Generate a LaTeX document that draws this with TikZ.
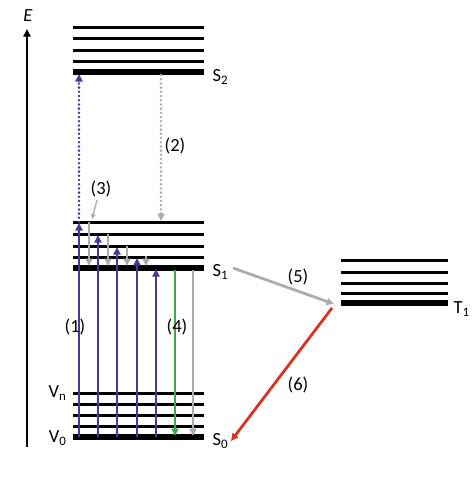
\documentclass[tikz,border=0pt]{standalone}
\usepackage{fontspec}
\setmainfont{Carlito}
\usetikzlibrary{arrows.meta}

\definecolor{absblue}{RGB}{66,58,150}
\definecolor{fluogreen}{RGB}{62,168,72}
\definecolor{relaxgray}{RGB}{172,172,172}
\definecolor{phosred}{RGB}{214,52,36}

\begin{document}
\begin{tikzpicture}[x=1pt, y=-1pt, >={Triangle[length=7.5pt,width=7pt]},
    every node/.style={font=\fontsize{18.5}{22}\selectfont},
    level/.style={line width=3pt},
    vzero/.style={line width=5.5pt},
    trans/.style={line width=2.8pt},
    dots/.style={line cap=round, dash pattern=on 0pt off 4.2pt}]
    \useasboundingbox (0,0) rectangle (474,498);

    % energy axis
    \coordinate (axbot) at (27,447);
    \coordinate (axtop) at (27,29);
    \draw[->, line width=1.8pt] (axbot) -- (axtop);
    \node (elab) at (28,16) {\textit{E}};

    % S2
    \foreach \y in {27,38,50,61}
      \draw[level] (73,\y) -- (204,\y);
    \draw[vzero] (73,72) -- (204,72);
    \node[anchor=west] (s2) at (209,77) {S\textsubscript{2}};

    % S1
    \foreach \y in {222,234,246,257}
      \draw[level] (73,\y) -- (204,\y);
    \draw[vzero] (73,268) -- (204,268);
    \node[anchor=west] (s1) at (209,272) {S\textsubscript{1}};

    % S0
    \foreach \y in {393,404,415,426}
      \draw[level] (73,\y) -- (204,\y);
    \draw[vzero] (73,437) -- (204,437);
    \node[anchor=west] (s0) at (209,441) {S\textsubscript{0}};
    \node[anchor=east] (vn) at (70,393) {V\textsubscript{n}};
    \node[anchor=east] (v0) at (70,438) {V\textsubscript{0}};

    % T1
    \foreach \y in {260,272,283,293}
      \draw[level] (341,\y) -- (448,\y);
    \draw[vzero] (341,303) -- (448,303);
    \node[anchor=west] (t1) at (450,309) {T\textsubscript{1}};

    % (1) absorption
    \foreach \x/\y in {79/223,98/235,117/247,137/258,156/269}
      \draw[trans, absblue, ->] (\x,437) -- (\x,\y);
    \draw[trans, absblue, ->, dots] (79,222) -- (79,74);
    \node (lab1) at (75,327) {(1)};

    % (2) internal conversion
    \draw[trans, relaxgray, ->, dots] (161,75) -- (161,221);
    \node (lab2) at (175,146) {(2)};

    % (3) vibrational relaxation
    \foreach \x/\y in {89/222,108/234,127/246,146/256}
      \draw[trans, relaxgray, ->] (\x,\y) -- (\x,266);
    \node (lab3) at (101,189) {(3)};
    \coordinate (ptr3) at (92,219);
    \draw[line width=1.3pt, relaxgray, -{Triangle[length=5pt,width=4.5pt]}] (97,200) -- (ptr3);

    % (4) fluorescence / non-radiative
    \draw[trans, fluogreen, ->] (175,270) -- (175,436);
    \draw[trans, relaxgray, ->] (193,270) -- (193,436);
    \node (lab4) at (177,327) {(4)};

    % (5) intersystem crossing
    \coordinate (iscA) at (233,268);
    \coordinate (iscB) at (334,304);
    \draw[trans, relaxgray, ->] (iscA) -- (iscB);
    \node (lab5) at (298,277) {(5)};

    % (6) phosphorescence
    \coordinate (phA) at (332,308);
    \coordinate (phB) at (231,441);
    \draw[trans, phosred, ->] (phA) -- (phB);
    \node (lab6) at (298,385) {(6)};
\end{tikzpicture}
\end{document}
